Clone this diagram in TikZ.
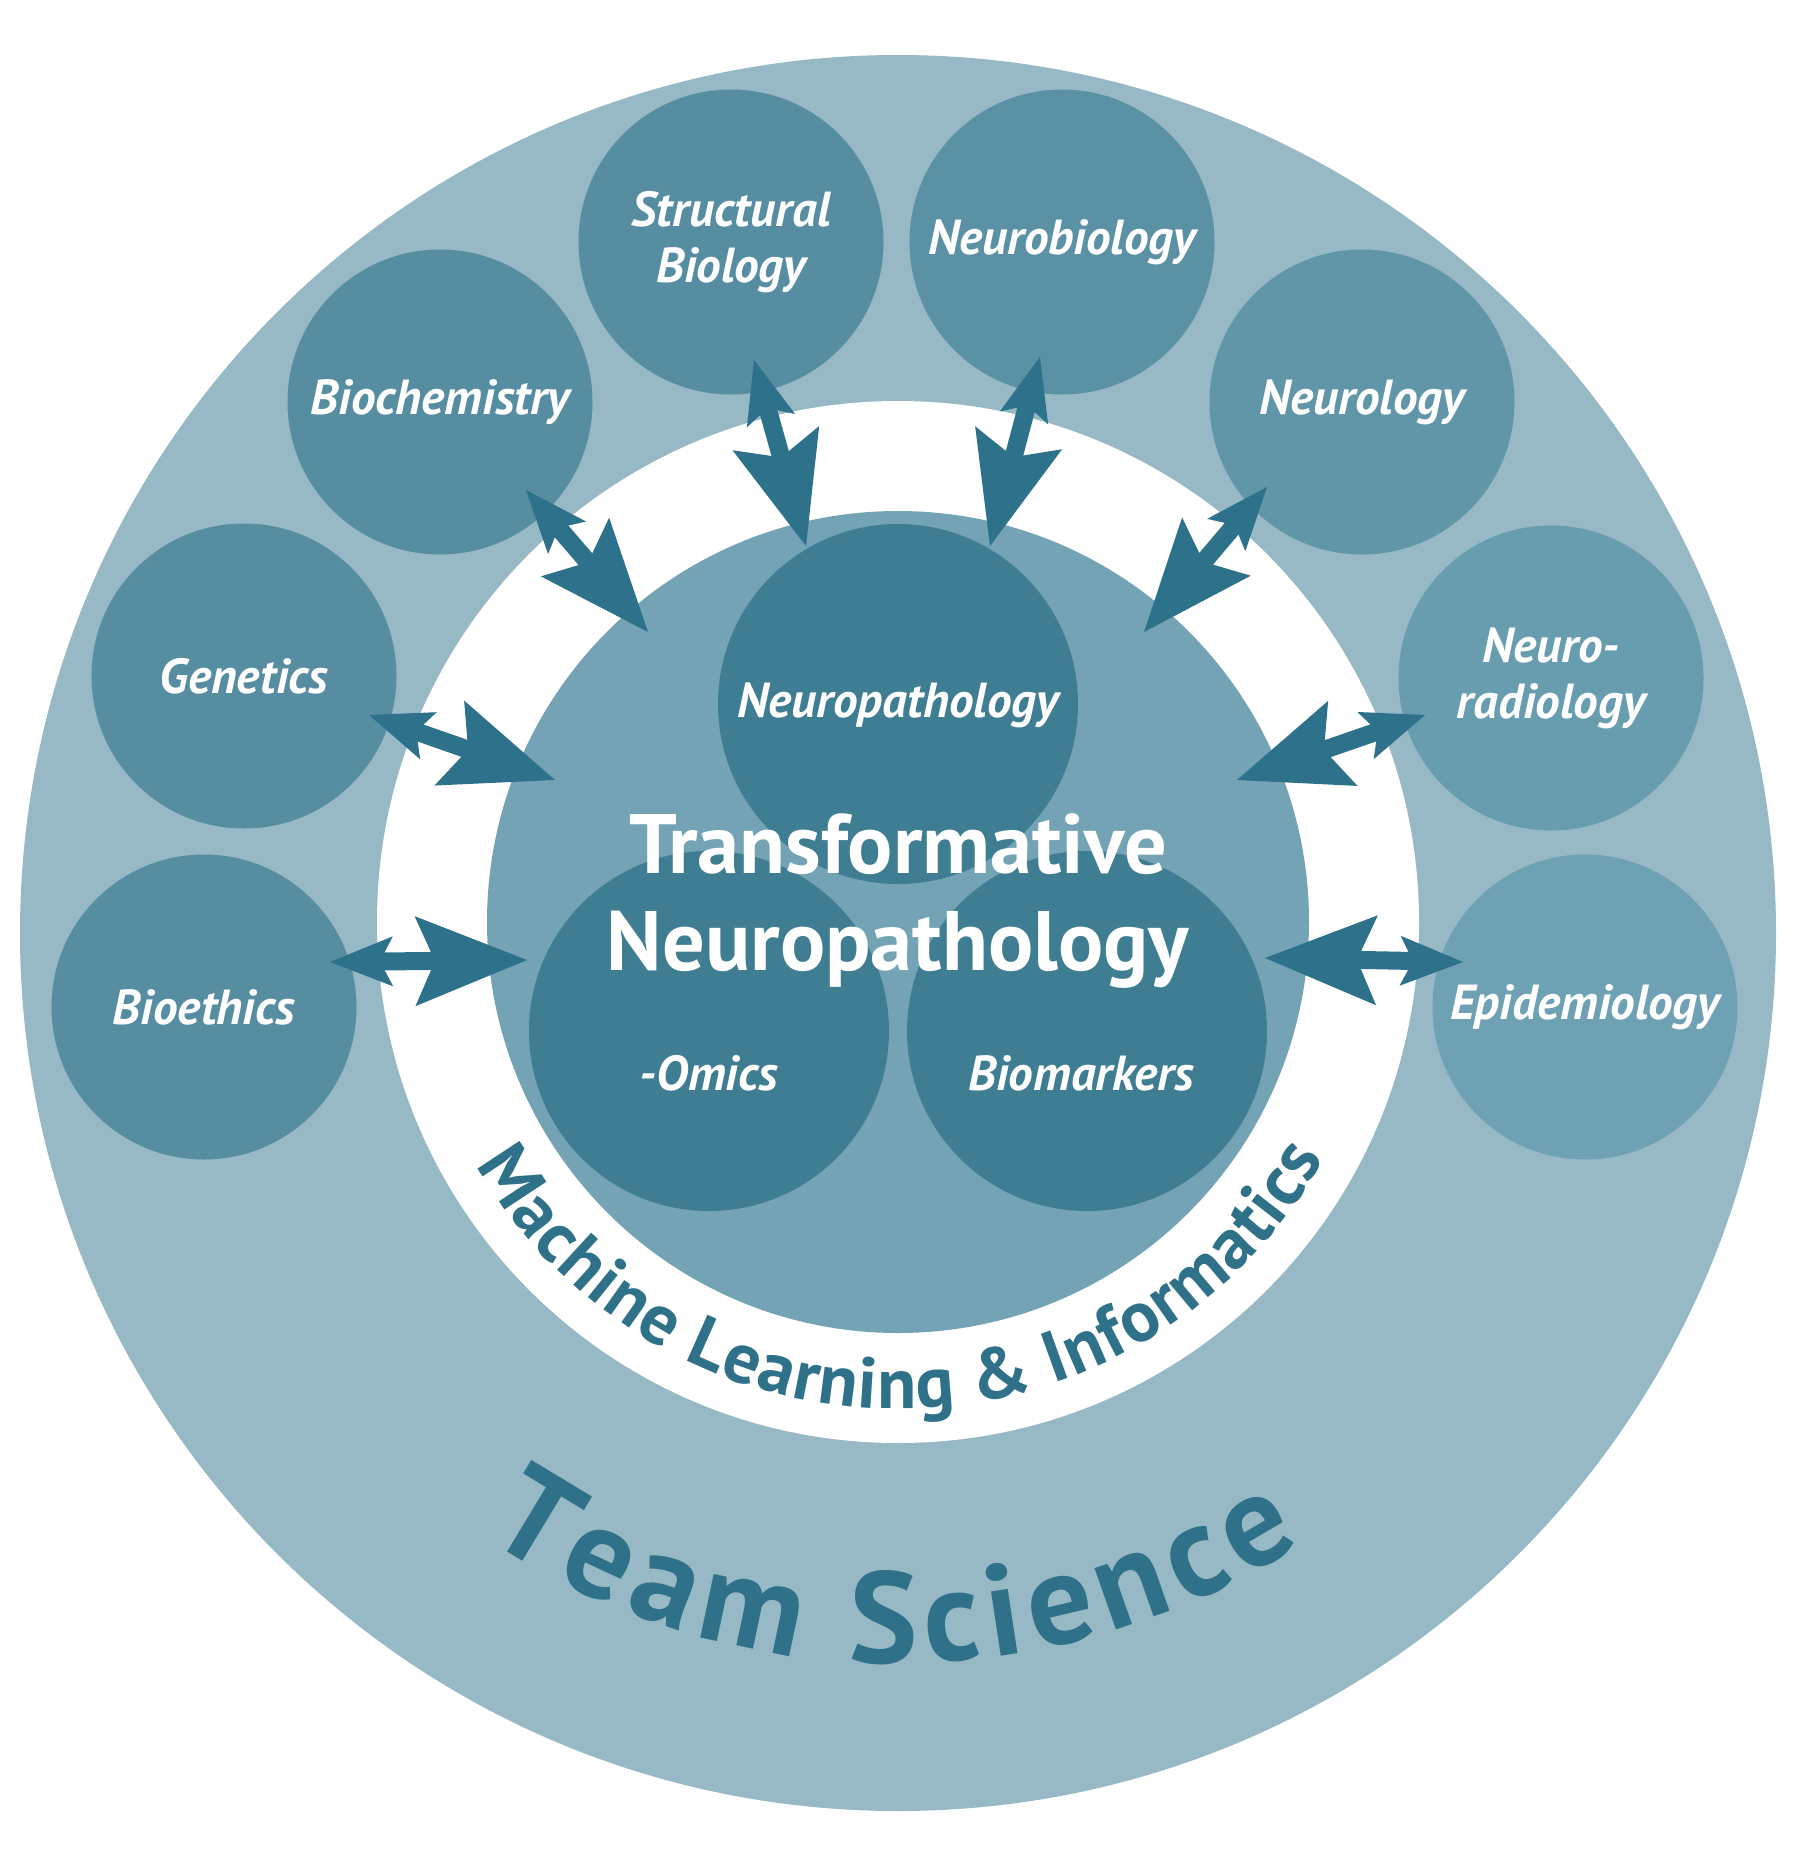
\documentclass[tikz,border=0pt]{standalone}
\usepackage{fontspec}
\setmainfont{PT Sans}
\usetikzlibrary{arrows.meta}
\definecolor{outerc}{HTML}{97B9C5}
\definecolor{innerc}{HTML}{73A3B4}
\definecolor{darkc}{HTML}{3F7D93}
\definecolor{arrowc}{HTML}{2D718A}
\definecolor{textc}{HTML}{2E7189}
\definecolor{sA}{HTML}{568DA1}
\definecolor{sB}{HTML}{5B91A5}
\definecolor{sC}{HTML}{6196A9}
\definecolor{sD}{HTML}{689CAF}
\definecolor{sE}{HTML}{6EA1B3}
\newcommand{\myMLfont}{\fontsize{20.5}{24}\selectfont\bfseries}
\newcommand{\myTSfont}{\fontsize{37}{41}\selectfont\bfseries}
\newdimen\arcw
\makeatletter
% #1 name, #2 radius (cm), #3 start angle, #4 end angle, #5 font, #6 char list
\newcommand{\prepArc}[6]{%
  \def\arc@sum{0}\def\arc@n{0}%
  \@for\arc@ch:=#6\do{%
    \setbox0=\hbox{#5\arc@ch}\arcw=\wd0\relax
    \edef\arc@sum{\fpeval{\arc@sum+\strip@pt\arcw}}%
    \edef\arc@n{\the\numexpr\arc@n+1\relax}%
  }%
  \edef\arc@R{\fpeval{#2*28.4527559}}%
  \edef\arc@extra{\fpeval{((#4-#3)*pi/180*\arc@R-\arc@sum)/(\arc@n-1)}}%
  \def\arc@pos{0}\def\arc@i{0}%
  \@for\arc@ch:=#6\do{%
    \setbox0=\hbox{#5\arc@ch}\arcw=\wd0\relax
    \edef\arc@i{\the\numexpr\arc@i+1\relax}%
    \expandafter\xdef\csname arcang#1\arc@i\endcsname{\fpeval{#3+(\arc@pos+0.5*\strip@pt\arcw)/\arc@R*180/pi}}%
    \edef\arc@pos{\fpeval{\arc@pos+\strip@pt\arcw+\arc@extra}}%
  }%
}
\makeatother
\begin{document}
\prepArc{ml}{4.87}{210}{331}{\myMLfont}{M,a,c,h,i,n,e,~,L,e,a,r,n,i,n,g,~,\&,~,I,n,f,o,r,m,a,t,i,c,s}
\prepArc{ts}{7.41}{236}{303}{\myTSfont}{T,e,a,m,~,S,c,i,e,n,c,e}
\begin{tikzpicture}[
  disc/.style={circle, draw=none, inner sep=0pt, minimum size=3.05cm, align=center,
    text=white, font=\fontsize{14}{16}\selectfont\bfseries\itshape},
  core/.style={circle, draw=none, fill=darkc, inner sep=0pt, minimum size=3.6cm},
  ring/.style={circle, draw=none, inner sep=0pt},
  lbl/.style={text=white, font=\fontsize{14}{16}\selectfont\bfseries\itshape, inner sep=0pt},
  title/.style={text=white, font=\fontsize{24}{28}\selectfont\bfseries, inner sep=0pt, anchor=base},
  arcchar/.style={anchor=base, inner sep=0pt, outer sep=0pt, text=textc},
  link/.style={draw=arrowc, line width=0.18cm,
    arrows={Stealth[length=0.63cm,width=0.5cm,inset=0.13cm,line width=0pt]-Stealth[length=1.12cm,width=0.9cm,inset=0.2cm,line width=0pt]}}
]
\fill[white] (0,0) rectangle (17.96,-18.53);
\useasboundingbox (0,0) rectangle (17.96,-18.53);
\coordinate (C) at (8.98,-9.22);

% rings
\node[ring, fill=outerc, minimum size=17.56cm] (team) at (8.98,-9.33) {};
\node[ring, fill=white, minimum size=10.42cm] (ml) at (C) {};
\node[ring, fill=innerc, minimum size=8.22cm] (tn) at (C) {};

% core circles
\node[core] (np) at (8.98,-7.04) {};
\node[core] (om) at (7.09,-10.31) {};
\node[core] (bm) at (10.87,-10.31) {};

% outer disciplines
\node[disc, fill=sA] (sb) at (7.31,-2.42) {Structural\\Biology};
\node[disc, fill=sB] (nb) at (10.62,-2.42) {Neurobiology};
\node[disc, fill=sA] (bc) at (4.40,-4.02) {Biochemistry};
\node[disc, fill=sC] (nl) at (13.62,-4.02) {Neurology};
\node[disc, fill=sA] (ge) at (2.44,-6.76) {Genetics};
\node[disc, fill=sD] (nr) at (15.51,-6.78) {Neuro-\\radiology};
\node[disc, fill=sA] (be) at (2.04,-10.07) {Bioethics};
\node[disc, fill=sE] (ep) at (15.85,-10.07) {Epidemiology};

% arrow end points
\coordinate (sbo) at (7.54,-3.60);  \coordinate (sbi) at (8.06,-5.46);
\coordinate (nbo) at (10.40,-3.57); \coordinate (nbi) at (9.90,-5.46);
\coordinate (bco) at (5.26,-4.90);  \coordinate (bci) at (6.48,-6.32);
\coordinate (nlo) at (12.67,-4.87); \coordinate (nli) at (11.44,-6.32);
\coordinate (geo) at (3.69,-7.15);  \coordinate (gei) at (5.55,-7.80);
\coordinate (nro) at (14.25,-7.15); \coordinate (nri) at (12.37,-7.80);
\coordinate (beo) at (3.30,-9.62);  \coordinate (bei) at (5.27,-9.60);
\coordinate (epo) at (14.63,-9.62); \coordinate (epi) at (12.65,-9.58);

\draw[link] (sbo) -- (sbi);
\draw[link] (nbo) -- (nbi);
\draw[link] (bco) -- (bci);
\draw[link] (nlo) -- (nli);
\draw[link] (geo) -- (gei);
\draw[link] (nro) -- (nri);
\draw[link] (beo) -- (bei);
\draw[link] (epo) -- (epi);

% inner labels
\node[lbl] (npl) at (8.98,-7.05) {Neuropathology};
\node[lbl] (oml) at (7.09,-10.73) {-Omics};
\node[lbl] (bml) at (10.81,-10.73) {Biomarkers};
\node[title] (t1) at (8.98,-8.73) {Transformative};
\node[title] (t2) at (8.98,-9.70) {Neuropathology};

% arc texts
\foreach \ch [count=\i] in {M,a,c,h,i,n,e,~,L,e,a,r,n,i,n,g,~,\&,~,I,n,f,o,r,m,a,t,i,c,s}{
  \edef\ang{\csname arcangml\i\endcsname}
  \node[arcchar, rotate=\ang+90] (mlt-\i) at ([shift={(\ang:4.87)}]C) {\myMLfont\ch};
}
\foreach \ch [count=\i] in {T,e,a,m,~,S,c,i,e,n,c,e}{
  \edef\ang{\csname arcangts\i\endcsname}
  \node[arcchar, rotate=\ang+90] (tst-\i) at ([shift={(\ang:7.41)}]C) {\myTSfont\ch};
}
\end{tikzpicture}
\end{document}
